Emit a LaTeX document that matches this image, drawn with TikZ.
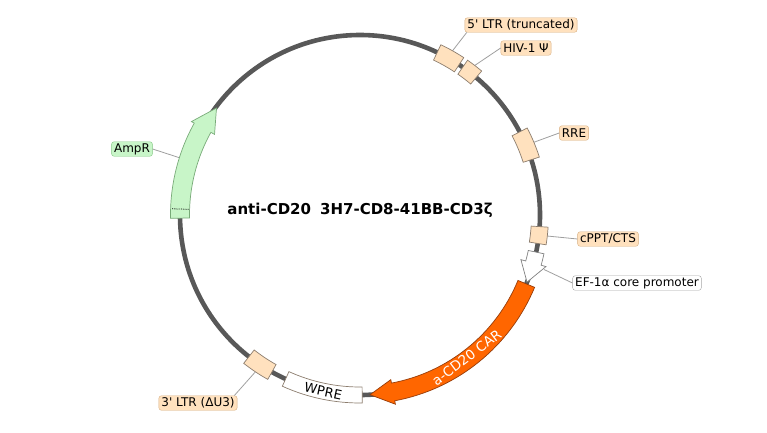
\documentclass[tikz,border=0pt]{standalone}
\usepackage{fontspec}
\setmainfont{DejaVu Sans}
\usepackage{tikz}
\usetikzlibrary{calc}
\definecolor{bbgray}{RGB}{88,88,88}
\definecolor{peach}{RGB}{255,225,190}
\definecolor{boxedge}{RGB}{140,125,110}
\definecolor{tanedge}{RGB}{215,175,130}
\definecolor{ampgreen}{RGB}{200,245,200}
\definecolor{ampedge}{RGB}{120,170,120}
\definecolor{lblgreen}{RGB}{130,200,130}
\definecolor{carorange}{RGB}{255,102,0}
\definecolor{caredge}{RGB}{150,60,10}

\begin{document}
\begin{tikzpicture}[x=1pt,y=1pt,
    backbone/.style={draw=bbgray,line width=4.6pt},
    featbox/.style={draw=boxedge,fill=peach,line width=0.7pt},
    lbl/.style={draw=tanedge,fill=peach,rounded corners=2.5pt,inner xsep=2.5pt,inner ysep=0.5pt,
        minimum height=14.5pt,font=\fontsize{12}{14}\selectfont},
    leader/.style={draw=gray!75,line width=0.8pt}]
    \useasboundingbox (-360,-217) rectangle (407,215);
    \draw[backbone] (0,0) circle[radius=180pt];
    % labels
    \node[lbl] (l5ltr) at (161,190) {5\textquotesingle{} LTR (truncated)};
    \node[lbl] (lpsi) at (166,167) {HIV-1 Ψ};
    \node[lbl] (lrre) at (214,82) {RRE};
    \node[lbl] (lcppt) at (248,-24) {cPPT/CTS};
    \node[lbl,fill=white,draw=gray!70] (lef) at (277,-68) {EF-1α core promoter};
    \node[lbl] (l3ltr) at (-162,-188) {3\textquotesingle{} LTR (ΔU3)};
    \node[lbl,fill=ampgreen,draw=lblgreen] (lamp) at (-228,66) {AmpR};
    % leader ends
    \coordinate (ltr5) at (60.6:188.5);
    \coordinate (psi) at (52.5:188.5);
    \coordinate (rre) at (22.7:188.5);
    \coordinate (cppt) at (-6.4:188.5);
    \coordinate (ef) at (-16.5:192);
    \coordinate (ltr3) at (-123.7:188.5);
    \coordinate (amp) at (162.4:189.5);
    \draw[leader] ([xshift=2pt]l5ltr.south west) -- (ltr5);
    \draw[leader] (lpsi.west) -- (psi);
    \draw[leader] (lrre.west) -- (rre);
    \draw[leader] (lcppt.west) -- (cppt);
    \draw[leader] (lef.west) -- (ef);
    \draw[leader] ([xshift=-3pt]l3ltr.north east) -- (ltr3);
    \draw[leader] (lamp.east) -- (amp);
    % boxes on the backbone
    \foreach \a/\b in {56.6/64.6, 49.8/55.2, 17.9/27.5, -9.1/-3.7, -128.1/-119.3}{
        \draw[featbox] (\a:171.5) arc[start angle=\a,end angle=\b,radius=171.5pt]
            -- (\b:188.5) arc[start angle=\b,end angle=\a,radius=188.5pt] -- cycle;
    }
    \draw[featbox,fill=white] (-114.4:172) arc[start angle=-114.4,end angle=-89.3,radius=172pt]
        -- (-89.3:188) arc[start angle=-89.3,end angle=-114.4,radius=188pt] -- cycle;
    \node[rotate=-11.8,font=\fontsize{13}{14}\selectfont] (wpre) at (-101.8:180) {WPRE};
    % arrows
    \draw[featbox,fill=ampgreen,draw=ampedge] (181:189.5) arc[start angle=181,end angle=151,radius=189.5pt]
        -- (151:192.7) -- (143.3:179) -- (151:166.3) -- (151:170.5)
        arc[start angle=151,end angle=181,radius=170.5pt] -- cycle;
    \draw[densely dotted,line width=0.8pt] (178.1:171) -- (178.1:189);
    \draw[featbox,fill=white,draw=gray] (-11.9:188) arc[start angle=-11.9,end angle=-15.5,radius=188pt]
        -- (-15.5:193) -- (-21.9:180) -- (-15.5:167) -- (-15.5:172)
        arc[start angle=-15.5,end angle=-11.9,radius=172pt] -- cycle;
    \draw[featbox,fill=carorange,draw=caredge] (-22.5:189) arc[start angle=-22.5,end angle=-79.4,radius=189pt]
        -- (-79.4:192.5) -- (-86.8:180) -- (-79.4:167.5) -- (-79.4:171)
        arc[start angle=-79.4,end angle=-22.5,radius=171pt] -- cycle;
    \node[text=white,rotate=37,font=\fontsize{13.5}{15}\selectfont] (car) at (-53.2:178) {a-CD20 CAR};
    % title
    \node[font=\bfseries\fontsize{15}{17}\selectfont] (title) at (0,5) {anti-CD20\hspace{0.6em}3H7-CD8-41BB-CD3ζ};
\end{tikzpicture}
\end{document}
